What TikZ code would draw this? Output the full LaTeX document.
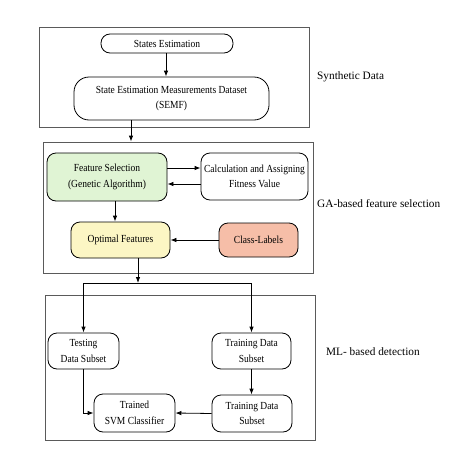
\documentclass[tikz,border=0pt]{standalone}
\usepackage{fontspec}
\setmainfont{Liberation Serif}[FakeStretch=0.88]
\newfontfamily\lblfont{Liberation Serif}
\usetikzlibrary{arrows.meta}
\definecolor{fsgreen}{RGB}{224,244,212}
\definecolor{optyellow}{RGB}{252,246,196}
\definecolor{clssalmon}{RGB}{246,190,168}
\definecolor{grpgray}{RGB}{90,90,90}
\tikzset{
  box/.style={draw=black, line width=0.8pt, rounded corners=9pt, align=center,
    inner sep=0pt, font=\fontsize{10.8}{15.5}\selectfont},
  group/.style={draw=grpgray, line width=0.8pt, inner sep=0pt},
  lbl/.style={anchor=west, font=\lblfont\fontsize{11.3}{13}\selectfont, inner sep=0pt},
  arr/.style={line width=0.8pt, -{Latex[length=6pt,width=4.5pt]}},
  ln/.style={line width=0.8pt}
}
\begin{document}
\begin{tikzpicture}[x=1pt,y=-1pt]
\useasboundingbox (0,0) rectangle (474,474);
% group boxes
\node[group, minimum width=270pt, minimum height=100pt] (g1) at (174,77) {};
\node[group, minimum width=270pt, minimum height=131pt] (g2) at (178,207.5) {};
\node[group, minimum width=270pt, minimum height=145pt] (g3) at (180,367.5) {};
% group labels
\node[lbl] (l1) at (317,77) {Synthetic Data};
\node[lbl] (l2) at (317,204) {GA-based feature selection};
\node[lbl] (l3) at (326,352) {ML- based detection};
% nodes
\node[box, minimum width=132pt, minimum height=19pt] (se) at (167,43.5) {States Estimation};
\node[box, rounded corners=15pt, minimum width=195pt, minimum height=43pt] (semf) at (171.5,98.5) {State Estimation Measurements Dataset\\(SEMF)};
\node[box, fill=fsgreen, minimum width=120pt, minimum height=48pt] (fs) at (107,177) {Feature Selection\\(Genetic Algorithm)};
\node[box, minimum width=107pt, minimum height=47pt] (calc) at (254.5,176.5) {Calculation and Assigning\\Fitness Value};
\node[box, fill=optyellow, minimum width=99pt, minimum height=36pt] (opt) at (120.5,240) {Optimal Features};
\node[box, fill=clssalmon, minimum width=79pt, minimum height=34pt] (cls) at (258.5,240) {Class-Labels};
\node[box, minimum width=71pt, minimum height=36pt] (test) at (83.5,351) {Testing\\Data Subset};
\node[box, minimum width=79pt, minimum height=36pt] (tr1) at (251.5,351) {Training Data\\Subset};
\node[box, minimum width=81pt, minimum height=38pt] (svm) at (134.5,413) {Trained\\SVM Classifier};
\node[box, minimum width=80pt, minimum height=37pt] (tr2) at (252,413.5) {Training Data\\Subset};
% helper coordinates
\coordinate (x166) at (166,0);
\coordinate (x131) at (131,0);
\coordinate (x115) at (115,0);
\coordinate (y168) at (0,168);
\coordinate (y184) at (0,184);
\coordinate (junc) at (138,283);
\coordinate (jl) at (83.5,283);
\coordinate (jr) at (251.5,283);
% connectors
\draw[arr] (se.south -| x166) -- (semf.north -| x166);
\draw[arr] (semf.south -| x131) -- (g2.north -| x131);
\draw[arr] (fs.east |- y168) -- (calc.west |- y168);
\draw[arr] (calc.west |- y184) -- (fs.east |- y184);
\draw[arr] (fs.south -| x115) -- (opt.north -| x115);
\draw[arr] (cls.west) -- (opt.east);
\draw[arr] (opt.south -| junc) -- (junc);
\draw[ln] (jl) -- (jr);
\draw[arr] (jl) -- (test.north);
\draw[arr] (jr) -- (tr1.north);
\draw[arr] (test.south) |- (svm.west);
\draw[arr] (tr1.south) -- (tr2.north -| tr1.south);
\draw[arr] (tr2.west) -- (svm.east);
\end{tikzpicture}
\end{document}
